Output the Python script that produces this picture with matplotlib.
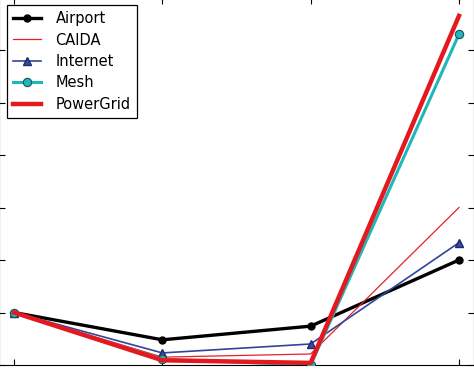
import matplotlib
matplotlib.use("Agg")
import matplotlib.pyplot as plt

# x positions (tick index) and series values
steps = [0, 1, 2, 3]
airport = [1.0, 0.48, 0.74, 2.0]
caida = [1.0, 0.15, 0.21, 3.0]
internet = [1.0, 0.23, 0.40, 2.33]
mesh = [1.0, 0.11, 0.0, 6.3]
powergrid = [1.0, 0.09, 0.04, 6.65]

W, H = 474, 369
fig = plt.figure(figsize=(W / 100, H / 100), dpi=100)

# axes box is partly outside the picture (the source was cropped)
left_px, right_px = -0.8, 473.8
bottom_px, top_px = 365, -2.5   # measured from the top of the image
ax = fig.add_axes([left_px / W, 1 - bottom_px / H,
                   (right_px - left_px) / W, (bottom_px - top_px) / H])

ax.plot(steps, airport, color='black', lw=2.4, marker='o', ms=5,
        label='Airport', zorder=3)
ax.plot(steps, caida, color='#e8202a', lw=0.9, label='CAIDA', zorder=3)
ax.plot(steps, internet, color='#33449a', lw=1.2, marker='^', ms=6,
        mfc='#3b4a9a', mec='#1f2a6e', label='Internet', zorder=3)
ax.plot(steps, mesh, color='#1fb8b8', lw=2.2, marker='o', ms=6,
        mfc='#22b5b5', mec='#15555a', mew=0.8, label='Mesh', zorder=3)
ax.plot(steps, powergrid, color='#e3191f', lw=3.2, label='PowerGrid',
        zorder=4)

ax.set_xlim(-0.1, 3.1)
ax.set_ylim(0, 7)
ax.set_xticks(steps)
ax.set_yticks(range(0, 8))
ax.tick_params(direction='in', length=4, width=0.8, top=True, right=True,
               labelbottom=False, labelleft=False)
for s in ax.spines.values():
    s.set_linewidth(0.8)

leg = ax.legend(loc='upper left', bbox_to_anchor=(7 / W, 1 - 5 / H),
                bbox_transform=fig.transFigure, borderaxespad=0,
                fontsize=10.5, fancybox=False, framealpha=1,
                edgecolor='black', labelspacing=0.44, handlelength=1.9,
                handletextpad=1.0, borderpad=0.42)
leg.get_frame().set_linewidth(0.9)

fig.savefig('out.png', dpi=100)
